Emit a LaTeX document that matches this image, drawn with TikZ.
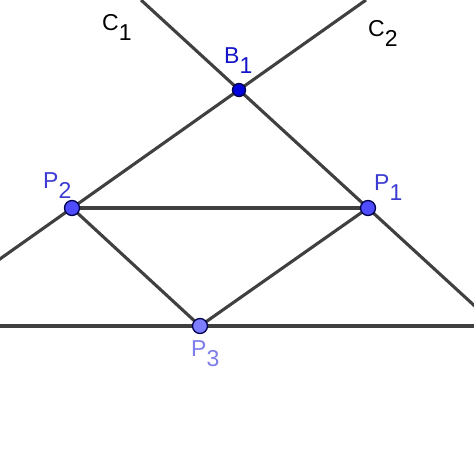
\documentclass[tikz,border=0pt]{standalone}
\usepackage{fontspec}
\setmainfont{Liberation Sans}
\newcommand{\lbl}[2]{#1\raisebox{-0.45em}{#2}}
\definecolor{linegray}{RGB}{64,64,64}
\definecolor{bdark}{RGB}{0,0,220}
\definecolor{pmid}{RGB}{77,77,255}
\definecolor{plight}{RGB}{125,125,255}
\definecolor{tmid}{RGB}{60,60,210}
\definecolor{tlight}{RGB}{125,125,235}
\definecolor{tblue}{RGB}{20,20,200}
\begin{document}
\begin{tikzpicture}[x=1pt,y=-1pt,
  ln/.style={draw=linegray,line width=3.1pt},
  pt/.style={circle,draw=black!70!blue,line width=1.3pt,inner sep=0pt,minimum size=15pt},
  lab/.style={font=\fontsize{23}{23}\selectfont,inner sep=0pt,anchor=base west}]
\useasboundingbox (0,0) rectangle (474,474);
\clip (0,0) rectangle (474,474);
\coordinate (c1a) at (141,0);
\coordinate (c1b) at (490,320);
\coordinate (c2a) at (366,0);
\coordinate (c2b) at (-10,266);
\coordinate (ha) at (-5,326);
\coordinate (hb) at (480,326);
\draw[ln] (c1a) -- (c1b);
\draw[ln] (c2a) -- (c2b);
\draw[ln] (ha) -- (hb);
\coordinate (B1) at (239,90);
\coordinate (P2) at (72,208);
\coordinate (P1) at (368,208);
\coordinate (P3) at (200,326);
\draw[ln] (P2) -- (P1);
\draw[ln] (P2) -- (P3);
\draw[ln] (P3) -- (P1);
\node[pt,fill=bdark,minimum size=13pt] (nB1) at (B1) {};
\node[pt,fill=pmid] (nP2) at (P2) {};
\node[pt,fill=pmid] (nP1) at (P1) {};
\node[pt,fill=plight] (nP3) at (P3) {};
\node[lab] (tC1) at (102,30) {\lbl{C}{1}};
\node[lab] (tC2) at (368,36) {\lbl{C}{2}};
\node[lab,text=tblue] (tB1) at (224,63) {\lbl{B}{1}};
\node[lab,text=tmid] (tP2) at (43,188) {\lbl{P}{2}};
\node[lab,text=tmid] (tP1) at (374,190) {\lbl{P}{1}};
\node[lab,text=tlight] (tP3) at (191,356) {\lbl{P}{3}};
\end{tikzpicture}
\end{document}
